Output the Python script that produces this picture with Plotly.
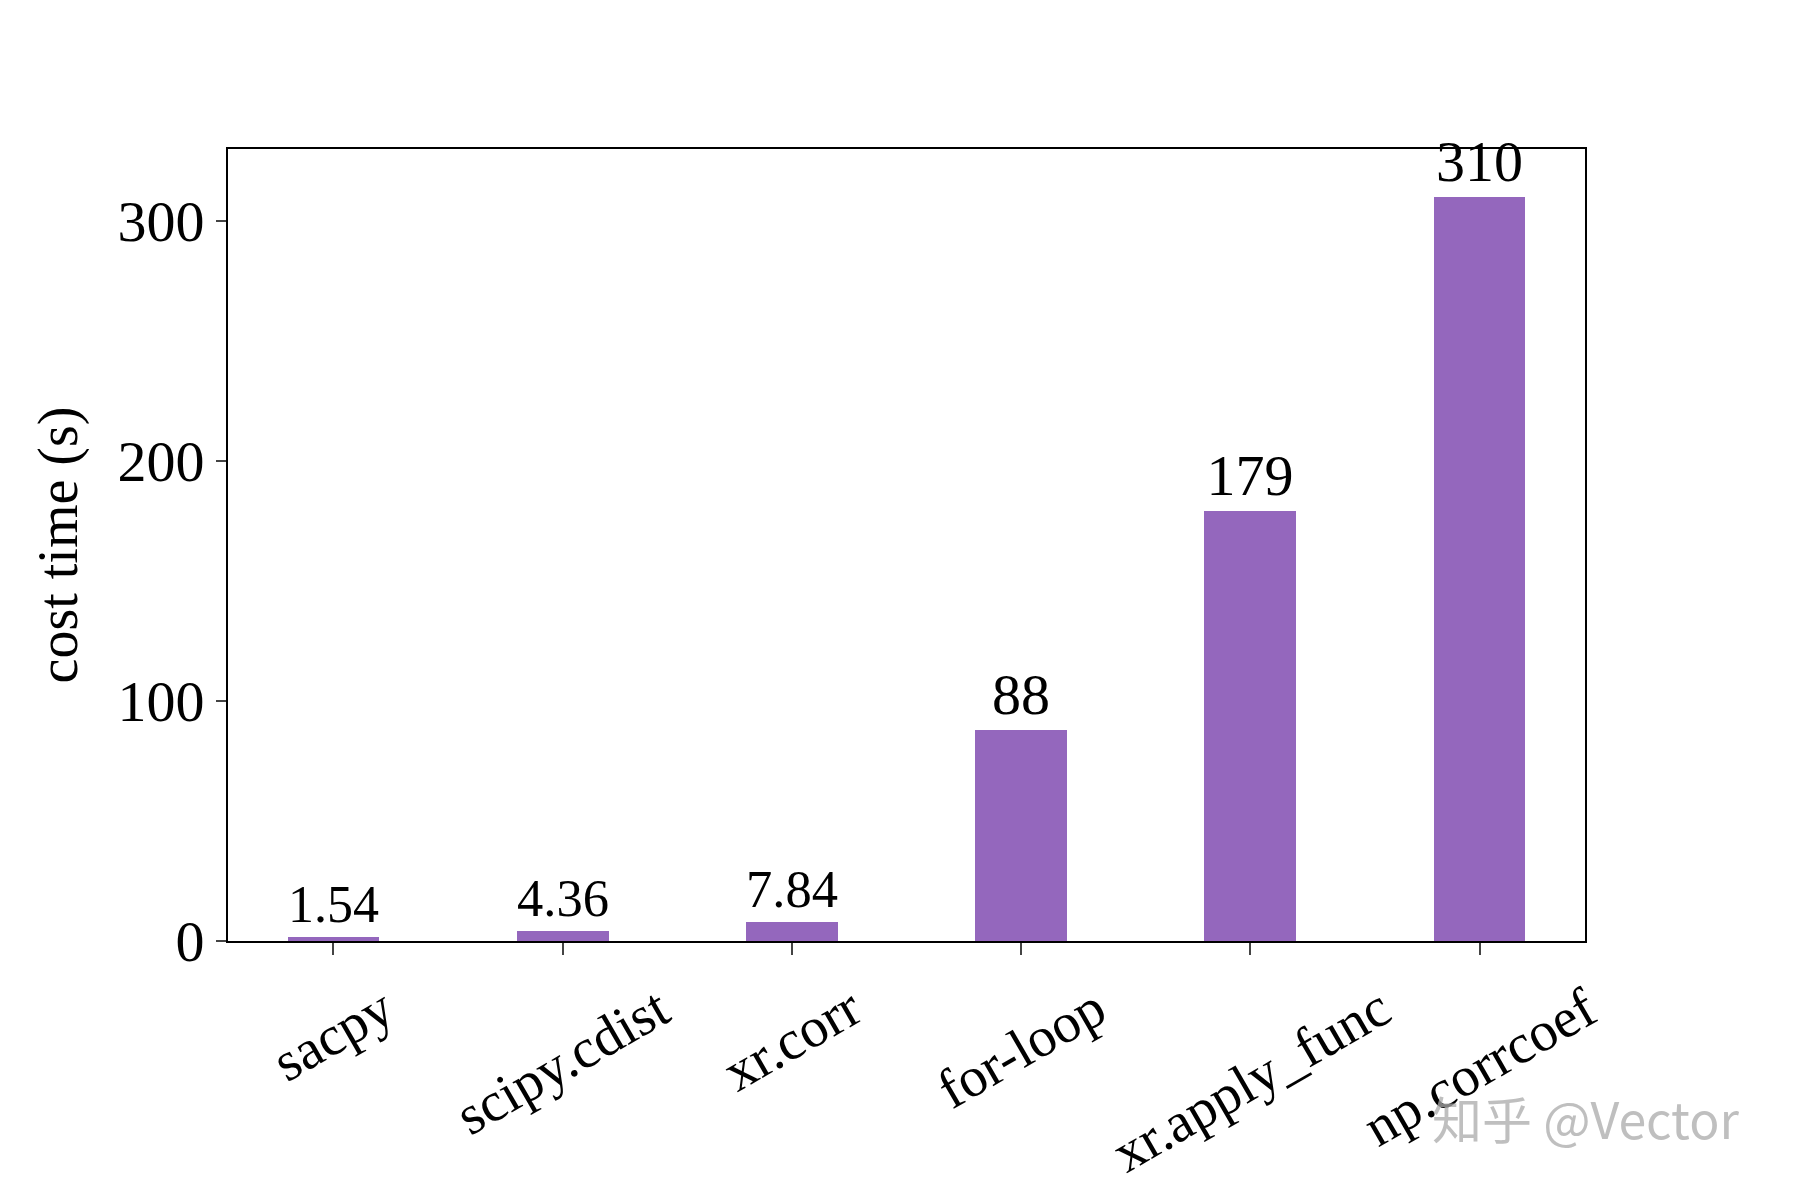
import plotly.graph_objects as go

methods = ["sacpy", "scipy.cdist", "xr.corr", "for-loop", "xr.apply_func", "np.corrcoef"]
cost_time = [1.54, 4.36, 7.84, 88, 179, 310]
bar_labels = ["1.54", "4.36", "7.84", "88", "179", "310"]
y_ticks = [0, 100, 200, 300]

FONT = "Liberation Serif"
PURPLE = "#9467bd"

fig = go.Figure(
    go.Bar(
        x=list(range(len(methods))),
        y=cost_time,
        width=0.4,
        marker=dict(color=PURPLE, line=dict(width=0)),
        text=bar_labels,
        textposition="outside",
        textfont=dict(family=FONT, size=58, color="black"),
        cliponaxis=False,
    )
)
fig.update_xaxes(
    range=[-0.46, 5.46],
    tickvals=list(range(len(methods))),
    ticktext=[""] * len(methods),
    ticks="outside",
    ticklen=12,
    tickwidth=2,
    showline=True,
    linecolor="black",
    linewidth=2,
    mirror=True,
    showgrid=False,
)
fig.update_yaxes(
    range=[0, 330],
    tickvals=y_ticks,
    ticks="outside",
    ticklen=10,
    tickwidth=2,
    showline=True,
    linecolor="black",
    linewidth=2,
    mirror=True,
    showgrid=False,
    zeroline=False,
    title=dict(text="cost time (s)", font=dict(family=FONT, size=56, color="black"), standoff=22),
    tickfont=dict(family=FONT, size=58, color="black"),
)
# rotated category labels centred under each tick, like matplotlib rotation=30
for i, name in enumerate(methods):
    fig.add_annotation(
        x=i, xref="x", y=-0.04, yref="paper",
        text=name, textangle=-30, showarrow=False,
        xanchor="center", yanchor="top",
        font=dict(family=FONT, size=56, color="black"),
    )
fig.add_annotation(
    xref="paper", yref="paper", x=1.0, y=-0.27,
    text="知乎 @Vector", showarrow=False, xanchor="center",
    font=dict(family="Noto Sans CJK SC", size=50, color="rgba(170,170,170,0.75)"),
)
fig.update_layout(
    width=1800,
    height=1200,
    margin=dict(l=220, r=223, t=141, b=267),
    plot_bgcolor="white",
    paper_bgcolor="white",
    bargap=0,
    showlegend=False,
)
fig.write_html("out.html")
